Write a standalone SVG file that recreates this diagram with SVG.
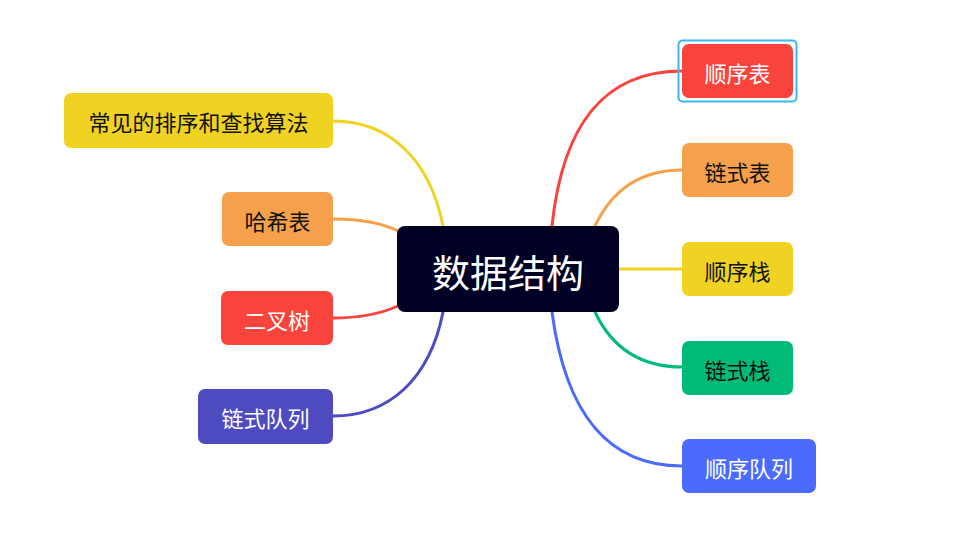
<svg xmlns="http://www.w3.org/2000/svg" width="974" height="559" viewBox="0 0 974 559">
<style>
.edge{fill:none;stroke-width:3;stroke-linecap:round}
.t{font-family:"Microsoft YaHei","Noto Sans CJK SC",sans-serif;font-size:22px;text-anchor:middle;dominant-baseline:central}
.w{fill:#ffffff}
.b{fill:#111111}
</style>
<rect width="974" height="559" fill="#ffffff"/>
<g id="connectors">
<path class="edge" stroke="#F8443C" d="M552,226 C562,130 600,71 682,71"/>
<path class="edge" stroke="#F5A14C" d="M595,226 C612,190 640,170 682,170"/>
<path class="edge" stroke="#F0D322" d="M619,269 L682,269"/>
<path class="edge" stroke="#00BB78" d="M595,312 C612,348 640,367 682,367"/>
<path class="edge" stroke="#4B6BFC" d="M552,312 C565,410 605,466 682,466"/>
<path class="edge" stroke="#F0D322" d="M443,226 C430,160 390,121 333,121"/>
<path class="edge" stroke="#F5A14C" d="M398,231 C380,222 360,219 333,219"/>
<path class="edge" stroke="#F8443C" d="M398,306 C380,314 360,318 333,318"/>
<path class="edge" stroke="#4E4AC0" d="M443,312 C430,378 390,416 333,416"/>
</g>
<g id="root">
<rect x="397" y="226" width="222" height="86" rx="8" fill="#000025"/>
<text class="t w" x="508" y="270" style="font-size:38px">数据结构</text>
</g>
<g id="n1">
<rect x="678.5" y="40.5" width="118" height="61" rx="4" fill="none" stroke="#3BB7F2" stroke-width="2"/>
<rect x="682" y="44" width="111" height="54" rx="7" fill="#F8443C"/>
<text class="t w" x="737.5" y="72">顺序表</text>
</g>
<g id="n2">
<rect x="682" y="143" width="111" height="54" rx="7" fill="#F5A14C"/>
<text class="t b" x="737.5" y="171">链式表</text>
</g>
<g id="n3">
<rect x="682" y="242" width="111" height="54" rx="7" fill="#F0D322"/>
<text class="t b" x="737.5" y="270">顺序栈</text>
</g>
<g id="n4">
<rect x="682" y="341" width="111" height="54" rx="7" fill="#00BB78"/>
<text class="t b" x="737.5" y="369">链式栈</text>
</g>
<g id="n5">
<rect x="682" y="439" width="134" height="54" rx="7" fill="#4B6BFC"/>
<text class="t w" x="749" y="467">顺序队列</text>
</g>
<g id="n6">
<rect x="64" y="93" width="269" height="55" rx="7" fill="#F0D322"/>
<text class="t b" x="198.5" y="121">常见的排序和查找算法</text>
</g>
<g id="n7">
<rect x="222" y="192" width="111" height="54" rx="7" fill="#F5A14C"/>
<text class="t b" x="277.5" y="220">哈希表</text>
</g>
<g id="n8">
<rect x="221" y="291" width="112" height="54" rx="7" fill="#F8443C"/>
<text class="t w" x="277" y="319">二叉树</text>
</g>
<g id="n9">
<rect x="198" y="389" width="135" height="55" rx="7" fill="#4E4AC0"/>
<text class="t w" x="265.5" y="417">链式队列</text>
</g>
</svg>
